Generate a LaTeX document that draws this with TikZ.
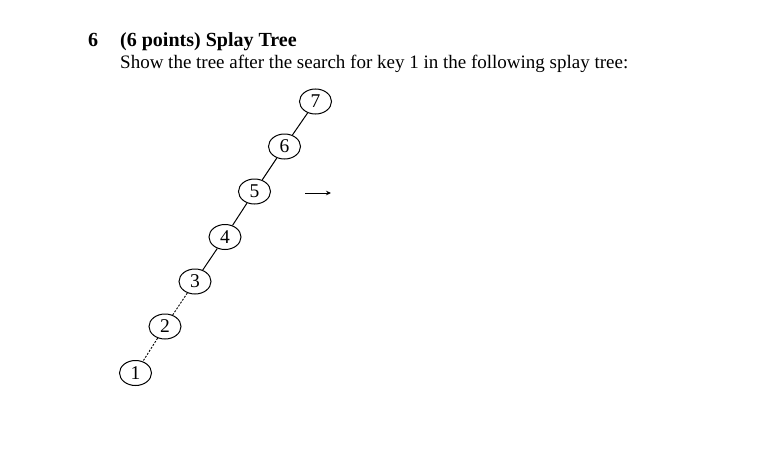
\documentclass[tikz,border=0pt]{standalone}
\usepackage{fontspec}
\setmainfont{Liberation Serif}
\usetikzlibrary{shapes.geometric,arrows.meta}
\tikzset{
  key/.style={draw,ellipse,line width=1pt,minimum width=32pt,minimum height=25pt,inner sep=0pt,font=\fontsize{19.5}{19.5}\selectfont},
  edge/.style={line width=1pt},
  dedge/.style={line width=0.9pt,dash pattern=on 2pt off 1.5pt},
  txt/.style={anchor=base west,inner sep=0pt,font=\fontsize{19}{22}\selectfont}
}
\begin{document}
\begin{tikzpicture}[x=1pt,y=-1pt]
\useasboundingbox (0,0) rectangle (771,471);
\node[txt,font=\fontsize{20}{22}\selectfont\bfseries] (num) at (88,46) {6};
\node[txt,font=\fontsize{20}{22}\selectfont\bfseries] (title) at (120,46) {(6 points) Splay Tree};
\node[txt] (q) at (120,68) {Show the tree after the search for key 1 in the following splay tree:};
\node[key] (n7) at (315.5,101.5) {7};
\node[key] (n6) at (284.5,146.5) {6};
\node[key] (n5) at (254.5,191.5) {5};
\node[key] (n4) at (225,237) {4};
\node[key] (n3) at (195,281.5) {3};
\node[key] (n2) at (165,326.5) {2};
\node[key] (n1) at (135.5,373) {1};
\draw[edge] (n7) -- (n6);
\draw[edge] (n6) -- (n5);
\draw[edge] (n5) -- (n4);
\draw[edge] (n4) -- (n3);
\draw[dedge] (n3) -- (n2);
\draw[dedge] (n2) -- (n1);
\coordinate (a1) at (305,193);
\coordinate (a2) at (331,193);
\draw[line width=1pt,-{Stealth[length=5pt,width=4.5pt]}] (a1) -- (a2);
\end{tikzpicture}
\end{document}
